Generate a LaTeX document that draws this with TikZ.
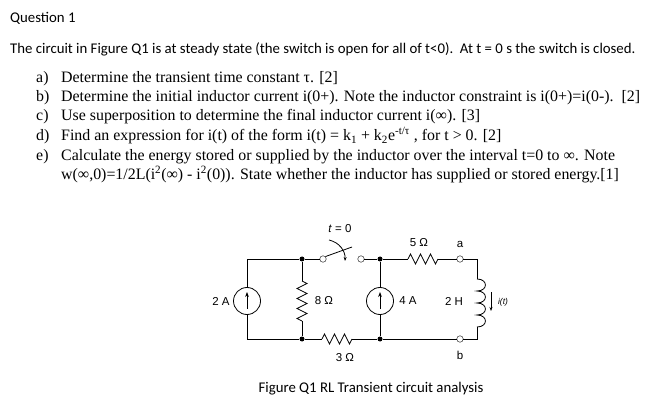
\documentclass[tikz,border=0pt]{standalone}
\usepackage{fontspec}
\setmainfont{Liberation Serif}
\newfontfamily\calfnt{Carlito}
\newfontfamily\arlfnt{Liberation Sans}
\usetikzlibrary{decorations.pathmorphing,arrows.meta}
\begin{document}
\begin{tikzpicture}[x=1pt,y=-1pt,
  q/.style={anchor=base west,inner sep=0,font=\calfnt\fontsize{14.8}{16}\selectfont},
  it/.style={anchor=base west,inner sep=0,font=\fontsize{15.9}{17}\selectfont},
  lb/.style={inner sep=0,font=\arlfnt\fontsize{11.5}{13}\selectfont},
  res/.style={decorate,decoration={zigzag,segment length=10pt,amplitude=5pt}},
  dot/.style={circle,fill,inner sep=0,minimum size=5pt},
  term/.style={circle,draw,fill=white,inner sep=0,minimum size=6.5pt},
  wire/.style={line width=0.8pt}]
\useasboundingbox (0,0) rectangle (663,411);
\fill[white] (0,0) rectangle (663,411);
\node[q] (q1) at (10,23) {Question 1};
\node[q] (p) at (10,54) {The circuit in Figure Q1 is at steady state (the switch is open for all of t<0).\ \ At t = 0 s the switch is closed.};
\foreach \l/\y/\t in {a/83/{Determine the transient time constant τ. [2]},
  b/102/{Determine the initial inductor current i(0+). Note the inductor constraint is i(0+)=i(0-).\ \ [2]},
  c/121/{Use superposition to determine the final inductor current i(∞). [3]},
  d/141/{Find an expression for i(t) of the form i(t) = k\textsubscript{1} + k\textsubscript{2}e\textsuperscript{-t/τ} , for t > 0. [2]},
  e/161/{Calculate the energy stored or supplied by the inductor over the interval t=0 to ∞. Note}}{
  \node[it] (l\l) at (36,\y) {\l)};
  \node[it] (t\l) at (61,\y) {\t};
}
\node[it] (te2) at (61,180) {w(∞,0)=1/2L(i\textsuperscript{2}(∞) - i\textsuperscript{2}(0)). State whether the inductor has supplied or stored energy.[1]};
% circuit
\node[dot] (n1) at (302,259) {};
\node[dot] (n2) at (302,339) {};
\node[dot] (n3) at (380,259) {};
\node[dot] (n4) at (380,339) {};
\node[term] (sa) at (323,259) {};
\node[term] (sb) at (361,259) {};
\node[term] (ta) at (460,259) {};
\node[term] (tb) at (460,339) {};
\node[circle,draw,wire,minimum size=27pt,inner sep=0] (s2) at (247,301) {};
\node[circle,draw,wire,minimum size=27pt,inner sep=0] (s4) at (380,301) {};
\coordinate (c1) at (247,259); \coordinate (c2) at (247,339);
\coordinate (c3) at (477,259); \coordinate (c4) at (477,339);
\draw[wire] (s2) -- (c1) -- (n1) -- (sa);
\draw[wire] (s2) -- (c2) -- (n2);
\draw[wire] (n2) -- (322,339);
\draw[wire,res] (322,339) -- (352,339);
\draw[wire] (352,339) -- (n4) -- (tb) -- (c4) -- (477,327);
\draw[wire] (n1) -- (302,281); \draw[wire,res] (302,281) -- (302,321); \draw[wire] (302,321) -- (n2);
\draw[wire] (sb) -- (n3) -- (408,259); \draw[wire,res] (408,259) -- (438,259); \draw[wire] (438,259) -- (ta) -- (c3) -- (477,279);
\draw[wire] (n3) -- (s4) -- (n4);
\draw[wire,-{Stealth[length=5pt]}] (247,309) -- (247,292);
\draw[wire,-{Stealth[length=5pt]}] (380,309) -- (380,292);
\draw[wire] (477,279) to[out=0,in=0,looseness=2.4] (477,291) to[out=0,in=0,looseness=2.4] (477,303) to[out=0,in=0,looseness=2.4] (477,315) to[out=0,in=0,looseness=2.4] (477,327);
\draw[wire] (sa.north east) -- (352,247);
\draw[wire,-{Stealth[length=4pt]}] (329,240) to[bend left=40] (345,261);
\draw[wire,-{Stealth[length=4pt]}] (491,292) -- (491,311);
\node[lb] at (340,229) {\textit{t} = 0};
\node[lb] at (419,243) {5 Ω};
\node[lb] at (460,244) {a};
\node[lb] at (324,301) {8 Ω};
\node[lb] at (408,301) {4 A};
\node[lb] at (454,301) {2 H};
\node[lb] at (221,301) {2 A};
\node[lb] at (345,358) {3 Ω};
\node[lb] at (460,355) {b};
\node[inner sep=0,font=\arlfnt\fontsize{8.5}{9}\selectfont\itshape] at (503,302) {i(t)};
\node[inner sep=0,font=\calfnt\fontsize{14.8}{16}\selectfont] (cap) at (371,389) {Figure Q1 RL Transient circuit analysis};
\end{tikzpicture}
\end{document}
